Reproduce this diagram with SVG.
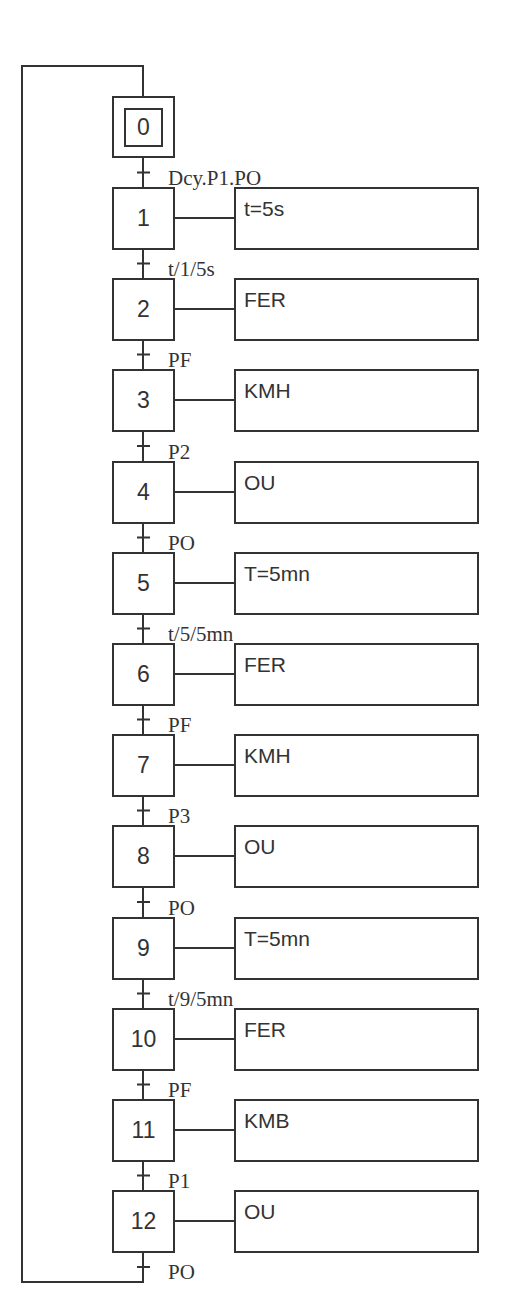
<svg xmlns="http://www.w3.org/2000/svg" width="506" height="1306" viewBox="0 0 506 1306">
<style>
.s{fill:#fff;stroke:#333;stroke-width:2}
.a{fill:#fff;stroke:#333;stroke-width:2}
.l{fill:none;stroke:#333;stroke-width:2}
.n{font-family:"Liberation Sans",Arial,sans-serif;font-size:23px;fill:#333;text-anchor:middle}
.t{font-family:"Liberation Sans",Arial,sans-serif;font-size:21px;fill:#333}
.c{font-family:"Liberation Serif","Times New Roman",serif;font-size:21px;fill:#333}
</style>
<rect width="506" height="1306" fill="#fff"/>
<g id="connectors">
<path class="l" d="M143,97 V66 H22 V1282 H143 V1252"/>
<path class="l" d="M143,157 V188 M137,172.5 H150"/>
<path class="l" d="M143,249 V279 M137,263.5 H150"/>
<path class="l" d="M143,340 V370 M137,354.5 H150"/>
<path class="l" d="M143,431 V462 M137,446 H150"/>
<path class="l" d="M143,523 V553 M137,537.5 H150"/>
<path class="l" d="M143,614 V644 M137,628.5 H150"/>
<path class="l" d="M143,705 V735 M137,719.5 H150"/>
<path class="l" d="M143,796 V826 M137,810.5 H150"/>
<path class="l" d="M143,887 V918 M137,902 H150"/>
<path class="l" d="M143,979 V1009 M137,993.5 H150"/>
<path class="l" d="M143,1070 V1100 M137,1084.5 H150"/>
<path class="l" d="M143,1161 V1191 M137,1175.5 H150"/>
<path class="l" d="M137,1267 H150"/>
<text class="c" x="168" y="185">Dcy.P1.PO</text>
<text class="c" x="168" y="276">t/1/5s</text>
<text class="c" x="168" y="367">PF</text>
<text class="c" x="168" y="459">P2</text>
<text class="c" x="168" y="550">PO</text>
<text class="c" x="168" y="641">t/5/5mn</text>
<text class="c" x="168" y="732">PF</text>
<text class="c" x="168" y="823">P3</text>
<text class="c" x="168" y="915">PO</text>
<text class="c" x="168" y="1006">t/9/5mn</text>
<text class="c" x="168" y="1097">PF</text>
<text class="c" x="168" y="1188">P1</text>
<text class="c" x="168" y="1279">PO</text>
</g>
<g id="step0" transform="translate(0,97)">
<rect class="s" x="113" y="0" width="61" height="60"/>
<rect class="s" x="125" y="12" width="37" height="37"/>
<text class="n" x="143.5" y="38">0</text>
</g>
<g id="step1" transform="translate(0,188)"><rect class="s" x="113" y="0" width="61" height="61"/><text class="n" x="143.5" y="38">1</text><path class="l" d="M174,30 H235"/><rect class="a" x="235" y="0" width="243" height="61"/><text class="t" x="244" y="28">t=5s</text></g>
<g id="step2" transform="translate(0,279)"><rect class="s" x="113" y="0" width="61" height="61"/><text class="n" x="143.5" y="38">2</text><path class="l" d="M174,30 H235"/><rect class="a" x="235" y="0" width="243" height="61"/><text class="t" x="244" y="28">FER</text></g>
<g id="step3" transform="translate(0,370)"><rect class="s" x="113" y="0" width="61" height="61"/><text class="n" x="143.5" y="38">3</text><path class="l" d="M174,30 H235"/><rect class="a" x="235" y="0" width="243" height="61"/><text class="t" x="244" y="28">KMH</text></g>
<g id="step4" transform="translate(0,462)"><rect class="s" x="113" y="0" width="61" height="61"/><text class="n" x="143.5" y="38">4</text><path class="l" d="M174,30 H235"/><rect class="a" x="235" y="0" width="243" height="61"/><text class="t" x="244" y="28">OU</text></g>
<g id="step5" transform="translate(0,553)"><rect class="s" x="113" y="0" width="61" height="61"/><text class="n" x="143.5" y="38">5</text><path class="l" d="M174,30 H235"/><rect class="a" x="235" y="0" width="243" height="61"/><text class="t" x="244" y="28">T=5mn</text></g>
<g id="step6" transform="translate(0,644)"><rect class="s" x="113" y="0" width="61" height="61"/><text class="n" x="143.5" y="38">6</text><path class="l" d="M174,30 H235"/><rect class="a" x="235" y="0" width="243" height="61"/><text class="t" x="244" y="28">FER</text></g>
<g id="step7" transform="translate(0,735)"><rect class="s" x="113" y="0" width="61" height="61"/><text class="n" x="143.5" y="38">7</text><path class="l" d="M174,30 H235"/><rect class="a" x="235" y="0" width="243" height="61"/><text class="t" x="244" y="28">KMH</text></g>
<g id="step8" transform="translate(0,826)"><rect class="s" x="113" y="0" width="61" height="61"/><text class="n" x="143.5" y="38">8</text><path class="l" d="M174,30 H235"/><rect class="a" x="235" y="0" width="243" height="61"/><text class="t" x="244" y="28">OU</text></g>
<g id="step9" transform="translate(0,918)"><rect class="s" x="113" y="0" width="61" height="61"/><text class="n" x="143.5" y="38">9</text><path class="l" d="M174,30 H235"/><rect class="a" x="235" y="0" width="243" height="61"/><text class="t" x="244" y="28">T=5mn</text></g>
<g id="step10" transform="translate(0,1009)"><rect class="s" x="113" y="0" width="61" height="61"/><text class="n" x="143.5" y="38">10</text><path class="l" d="M174,30 H235"/><rect class="a" x="235" y="0" width="243" height="61"/><text class="t" x="244" y="28">FER</text></g>
<g id="step11" transform="translate(0,1100)"><rect class="s" x="113" y="0" width="61" height="61"/><text class="n" x="143.5" y="38">11</text><path class="l" d="M174,30 H235"/><rect class="a" x="235" y="0" width="243" height="61"/><text class="t" x="244" y="28">KMB</text></g>
<g id="step12" transform="translate(0,1191)"><rect class="s" x="113" y="0" width="61" height="61"/><text class="n" x="143.5" y="38">12</text><path class="l" d="M174,30 H235"/><rect class="a" x="235" y="0" width="243" height="61"/><text class="t" x="244" y="28">OU</text></g>
</svg>
